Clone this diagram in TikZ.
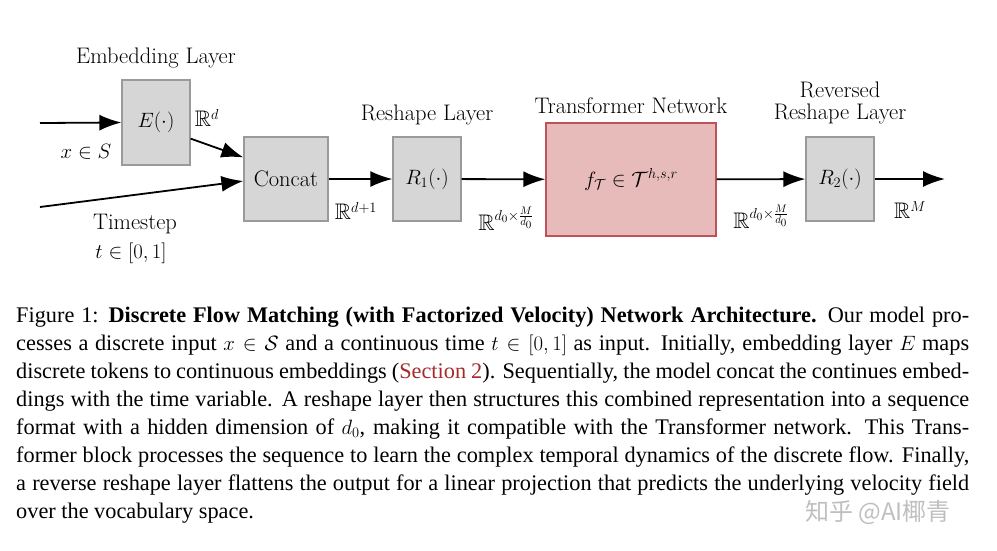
\documentclass[tikz,border=0pt]{standalone}
\usepackage{fontspec}
\usepackage{amsmath,amssymb}
\newfontfamily\capfont{Liberation Serif}
\newfontfamily\cjk{Noto Sans CJK SC}
\usetikzlibrary{arrows.meta}
\definecolor{boxgray}{HTML}{D6D6D6}
\definecolor{boxedge}{HTML}{9A9A9A}
\definecolor{tfill}{HTML}{E8BBBB}
\definecolor{tedge}{HTML}{C0505A}
\definecolor{secred}{HTML}{A52A2A}
\begin{document}
\begin{tikzpicture}[x=1pt,y=-1pt,
  box/.style={draw=boxedge,fill=boxgray,line width=1.2pt,minimum width=68pt,minimum height=84pt,inner sep=0pt},
  lbl/.style={font=\fontsize{22.5}{25}\selectfont,align=center},
  arr/.style={line width=1.8pt,-{Latex[length=22pt,width=16pt]}}]
\useasboundingbox (0,0) rectangle (997,550);
\node[box,minimum height=85pt] (E) at (156,122.5) {\fontsize{22.5}{25}\selectfont $E(\cdot)$};
\node[box,minimum width=84pt] (C) at (286,179) {\fontsize{22.5}{25}\selectfont Concat};
\node[box] (R1) at (427,179) {\fontsize{22.5}{25}\selectfont $R_1(\cdot)$};
\node[box,draw=tedge,fill=tfill,minimum width=170pt,minimum height=113pt] (T) at (631,179.5) {\fontsize{22.5}{25}\selectfont $f_{\mathcal T}\in\mathcal{T}^{h,s,r}$};
\node[box] (R2) at (840,179) {\fontsize{22.5}{25}\selectfont $R_2(\cdot)$};
\coordinate (xin) at (40,123);
\coordinate (tin) at (40,207);
\coordinate (out) at (945,179);
\draw[arr] (xin) -- (E.west);
\draw[arr] ([yshift=27pt]E.south east) -- ([yshift=-21pt]C.north west);
\draw[arr] (tin) -- ([yshift=-2pt]C.west);
\draw[arr] (C) -- (R1);
\draw[arr] (R1) -- (T);
\draw[arr] (T) -- (R2);
\draw[arr] (R2) -- (out);
\node[lbl] (el) at (156,58) {Embedding Layer};
\node[lbl] (rd) at (207,118) {$\mathbb{R}^d$};
\node[lbl] (xs) at (86,152) {$x\in S$};
\node[lbl] (ts) at (135,224) {Timestep};
\node[lbl] (tt) at (131,253) {$t\in[0,1]$};
\node[lbl] (rd1) at (356,211) {$\mathbb{R}^{d+1}$};
\node[lbl] (rl) at (427,115) {Reshape Layer};
\node[lbl] (r2d) at (506,219) {$\mathbb{R}^{d_0\times\frac{M}{d_0}}$};
\node[lbl] (tn) at (631,106) {Transformer Network};
\node[lbl] (r3d) at (761,217) {$\mathbb{R}^{d_0\times\frac{M}{d_0}}$};
\node[lbl] (rr) at (840,103) {Reversed\\[-3pt]Reshape Layer};
\node[lbl] (rm) at (910,210) {$\mathbb{R}^M$};
\node[anchor=north west,inner sep=0pt,text width=953pt,align=justify,font=\capfont\fontsize{22.3}{28}\selectfont] (cap) at (16,307)
{Figure 1: \textbf{Discrete Flow Matching (with Factorized Velocity) Network Architecture.} Our model pro\-cesses a discrete input $x\in\mathcal{S}$ and a continuous time $t\in[0,1]$ as input. Initially, embedding layer $E$ maps discrete tokens to continuous embeddings ({\color{secred}Section 2}). Sequentially, the model concat the continues embed\-dings with the time variable. A reshape layer then structures this combined representation into a sequence format with a hidden dimension of $d_0$, making it compatible with the Transformer network. This Trans\-former block processes the sequence to learn the complex temporal dynamics of the discrete flow. Finally, a reverse reshape layer flattens the output for a linear projection that predicts the underlying velocity field over the vocabulary space.};
\node[font=\cjk\fontsize{24}{28}\selectfont,text=white!75!black] (wm) at (878,512) {知乎 @AI椰青};
\end{tikzpicture}
\end{document}
